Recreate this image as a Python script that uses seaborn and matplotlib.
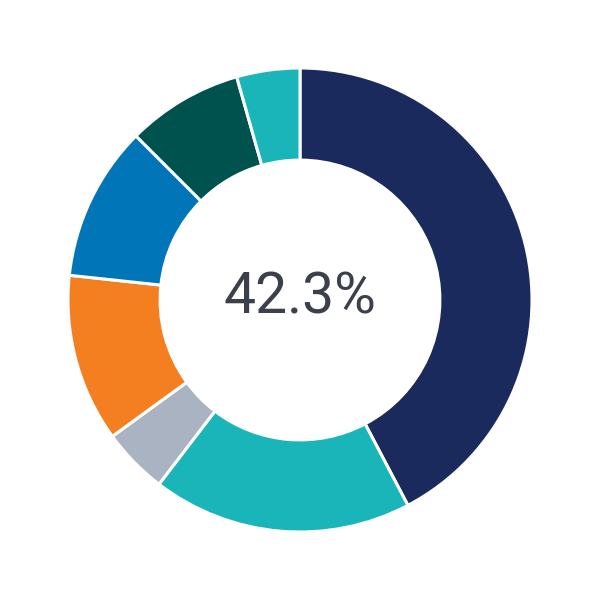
import matplotlib
matplotlib.use("Agg")
import matplotlib.pyplot as plt
import seaborn as sns

# Slice data (clockwise from 12 o'clock)
categories = ["A", "B", "C", "D", "E", "F", "G"]
shares = [42.3, 18.1, 4.6, 11.7, 10.8, 8.1, 4.4]
hex_colors = ["#1b2a5c", "#1ab5b8", "#a9b3c1", "#f37f21",
              "#0075b8", "#00524f", "#1ab5b8"]
center_label = "42.3%"

sns.set_theme(style="white")
plt.rcParams["font.family"] = ["Roboto", "DejaVu Sans"]
palette = sns.color_palette(hex_colors)

fig = plt.figure(figsize=(6, 6), dpi=100)
ax = fig.add_axes([0, 0, 1, 1])
ax.pie(shares, colors=palette, startangle=90, counterclock=False,
       radius=1, wedgeprops=dict(width=0.397, edgecolor="white", linewidth=2.2))
ax.text(0, 0.01, center_label, ha="center", va="center",
        fontsize=41, color="#3b404b")
lim = 300 / 232
ax.set_xlim(-lim, lim)
ax.set_ylim(-lim, lim)
ax.set_aspect("equal")
ax.axis("off")

fig.savefig("out.png", dpi=100, facecolor="white")
